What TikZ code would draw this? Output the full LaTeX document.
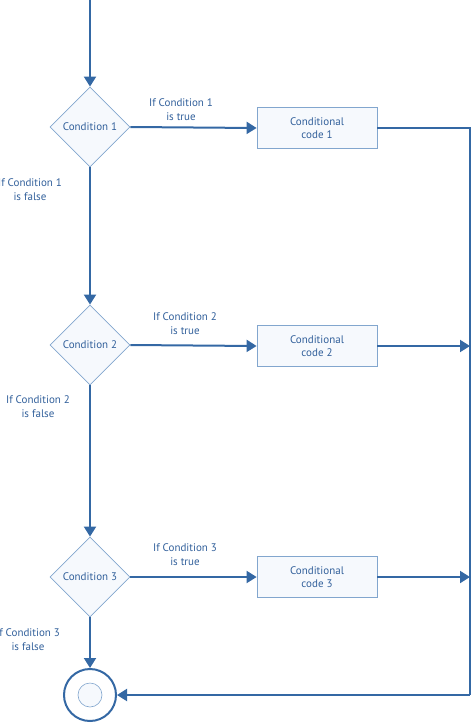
\documentclass[tikz,border=0pt]{standalone}
\usepackage{fontspec}
\setmainfont{PT Sans}
\usetikzlibrary{shapes.geometric,arrows.meta}
\definecolor{lineblue}{RGB}{52,104,164}
\definecolor{textblue}{RGB}{50,96,155}
\definecolor{shapeedge}{RGB}{130,166,206}
\definecolor{shapefill}{RGB}{246,249,253}
\tikzset{
  flow/.style={draw=lineblue,line width=2pt},
  arr/.style={flow,-{Triangle[length=10pt,width=12pt]}},
  cond/.style={diamond,draw=shapeedge,fill=shapefill,line width=0.8pt,minimum width=80pt,minimum height=80pt,inner sep=0pt,text=textblue,font=\fontsize{11}{13}\selectfont},
  codebox/.style={rectangle,draw=shapeedge,fill=shapefill,line width=0.8pt,minimum width=120pt,minimum height=41pt,inner sep=0pt,text=textblue,align=center,font=\fontsize{11}{13}\selectfont},
  lab/.style={text=textblue,align=center,font=\fontsize{11}{14}\selectfont,inner sep=0pt},
}
\begin{document}
\begin{tikzpicture}[x=1pt,y=-1pt]
\useasboundingbox (0,0) rectangle (474,725);
\coordinate (start) at (90,0);
\node[cond] (c1) at (90,127) {Condition 1};
\node[cond] (c2) at (90,345) {Condition 2};
\node[cond] (c3) at (90,577) {Condition 3};
\node[codebox] (b1) at (317,128) {Conditional\\code 1};
\node[codebox] (b2) at (317,346) {Conditional\\code 2};
\node[codebox] (b3) at (317,577) {Conditional\\code 3};
\node[circle,draw=lineblue,line width=2pt,fill=white,minimum size=52pt,inner sep=0pt] (end) at (90,695) {};
\node[circle,draw=shapeedge,fill=shapefill,line width=0.6pt,minimum size=24pt,inner sep=0pt] (endin) at (90,695) {};
\coordinate (r1) at (470,128);
\coordinate (r2) at (470,346);
\coordinate (r3) at (470,577);
\coordinate (rb) at (470,695);
\draw[arr] (start) -- (c1.north);
\draw[arr] (c1.south) -- (c2.north);
\draw[arr] (c2.south) -- (c3.north);
\draw[arr] (c3.south) -- (end.north);
\draw[arr] (c1.east) -- (b1.west);
\draw[arr] (c2.east) -- (b2.west);
\draw[arr] (c3.east) -- (b3.west);
\draw[flow] (b1.east) -- (r1) -- (rb);
\draw[arr] (rb) -- (end.east);
\draw[arr] (b2.east) -- (r2);
\draw[arr] (b3.east) -- (r3);
\node[lab] (t1) at (181,110) {If Condition 1\\is true};
\node[lab] (t2) at (185,324) {If Condition 2\\is true};
\node[lab] (t3) at (185,555) {If Condition 3\\is true};
\node[lab] (f1) at (30,190) {If Condition 1\\is false};
\node[lab] (f2) at (38,407) {If Condition 2\\is false};
\node[lab] (f3) at (28,640) {If Condition 3\\is false};
\end{tikzpicture}
\end{document}
